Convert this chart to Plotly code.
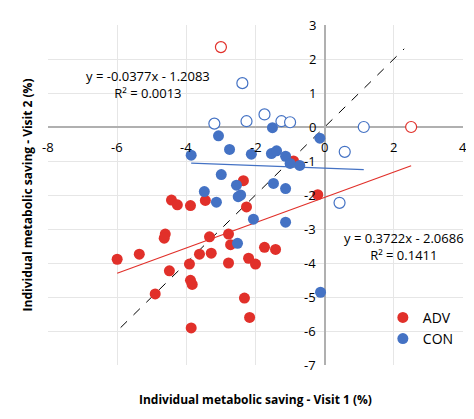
import numpy as np
import plotly.graph_objects as go

# ADV (red) filled
adv_x = [-2.35, -0.2, -4.43, -4.26, -3.88, -3.45, -2.26, -2.78, -3.33, -4.61, -4.64, -6.0, -5.36,
         -4.49, -3.91, -3.62, -3.28, -2.72, -2.78, -2.2, -2.0, -1.74, -1.42, -4.9, -3.88, -3.83,
         -2.32, -2.17, -3.86, -0.9]
adv_y = [-1.58, -1.99, -2.15, -2.29, -2.31, -2.16, -2.35, -3.15, -3.23, -3.15, -3.27, -3.89, -3.74,
         -4.23, -4.03, -3.74, -3.71, -3.46, -4.0, -3.86, -4.03, -3.54, -3.6, -4.91, -4.51, -4.63,
         -5.03, -5.6, -5.91, -1.0]
# CON (blue) filled
con_x = [-3.86, -3.07, -2.75, -2.12, -1.51, -1.54, -1.39, -1.13, -1.0, -0.72, -0.14, -2.99, -2.55,
         -1.48, -1.13, -3.48, -3.13, -2.43, -2.5, -2.06, -1.13, -2.52, -0.12]
con_y = [-0.83, -0.26, -0.66, -0.8, -0.02, -0.78, -0.7, -0.86, -1.07, -1.13, -0.33, -1.4, -1.71,
         -1.66, -1.81, -1.9, -2.21, -2.0, -2.05, -2.71, -2.8, -3.42, -4.86]
# open markers
adv_open_x = [-3.0, 2.5]
adv_open_y = [2.35, 0.0]
con_open_x = [-2.38, -3.19, -2.26, -1.74, -1.25, -1.0, 1.13, 0.58, 0.43]
con_open_y = [1.29, 0.1, 0.17, 0.37, 0.17, 0.14, 0.0, -0.73, -2.23]

adv_fit = (0.3722, -2.0686)
con_fit = (-0.0377, -1.2083)
adv_fit_x = [-6.0, 2.5]
con_fit_x = [-3.86, 1.13]
ident_x = [-5.9, 2.3]

x_ticks = [-8, -6, -4, -2, 0, 2, 4]
y_ticks = [3, 2, 1, -1, -2, -3, -4, -5, -6, -7]

RED = '#e1302a'
BLUE = '#4472c4'

fig = go.Figure()

fig.add_trace(go.Scatter(x=ident_x, y=ident_x, mode='lines',
                         line=dict(color='black', width=1, dash='dash'), showlegend=False))
fig.add_trace(go.Scatter(x=adv_fit_x, y=[adv_fit[0] * v + adv_fit[1] for v in adv_fit_x],
                         mode='lines', line=dict(color=RED, width=1.2), showlegend=False))
fig.add_trace(go.Scatter(x=con_fit_x, y=[con_fit[0] * v + con_fit[1] for v in con_fit_x],
                         mode='lines', line=dict(color=BLUE, width=1.2), showlegend=False))

fig.add_trace(go.Scatter(x=adv_open_x, y=adv_open_y, mode='markers', showlegend=False,
                         marker=dict(size=11, color='white', line=dict(color=RED, width=1.2))))
fig.add_trace(go.Scatter(x=con_open_x, y=con_open_y, mode='markers', showlegend=False,
                         marker=dict(size=11, color='white', line=dict(color=BLUE, width=1.2))))
fig.add_trace(go.Scatter(x=adv_x, y=adv_y, mode='markers', name='ADV',
                         marker=dict(size=11, color=RED)))
fig.add_trace(go.Scatter(x=con_x, y=con_y, mode='markers', name='CON',
                         marker=dict(size=11, color=BLUE)))

ann = []
for t in x_ticks:
    ann.append(dict(x=t, y=-0.25, text=str(t), xanchor='center', yanchor='top', showarrow=False))
for t in y_ticks + [0]:
    ann.append(dict(x=-0.2, y=t, text=str(t), xanchor='right', yanchor='middle', showarrow=False))
ann += [
    dict(x=-5.1, y=1.25, text='y = -0.0377x - 1.2083<br>R² = 0.0013', showarrow=False),
    dict(x=2.3, y=-3.5, text='y = 0.3722x - 2.0686<br>R² = 0.1411', showarrow=False),
    dict(xref='paper', yref='paper', x=0.5, y=-0.07, yanchor='top',
         text='<b>Individual metabolic saving - Visit 1 (%)</b>', showarrow=False,
         font=dict(size=12)),
    dict(xref='paper', yref='paper', x=-0.075, y=0.5, textangle=-90,
         text='<b>Individual metabolic saving - Visit 2 (%)</b>', showarrow=False,
         font=dict(size=12)),
]

fig.update_layout(
    width=474, height=419,
    margin=dict(l=40, r=19, t=17, b=62),
    paper_bgcolor='white', plot_bgcolor='white',
    font=dict(family='Open Sans', size=13, color='black'),
    annotations=ann,
    xaxis=dict(range=[-8, 4], dtick=2, showticklabels=False, showgrid=True, gridcolor='#e6e6e6',
               zeroline=True, zerolinecolor='#b0b0b0', zerolinewidth=1.5),
    yaxis=dict(range=[-7, 3], dtick=1, showticklabels=False, showgrid=True, gridcolor='#e6e6e6',
               zeroline=True, zerolinecolor='#b0b0b0', zerolinewidth=1.5),
    legend=dict(x=0.99, y=0.03, xanchor='right', yanchor='bottom', bgcolor='rgba(0,0,0,0)',
                font=dict(size=14), itemwidth=30),
)

fig.write_html("out.html")
